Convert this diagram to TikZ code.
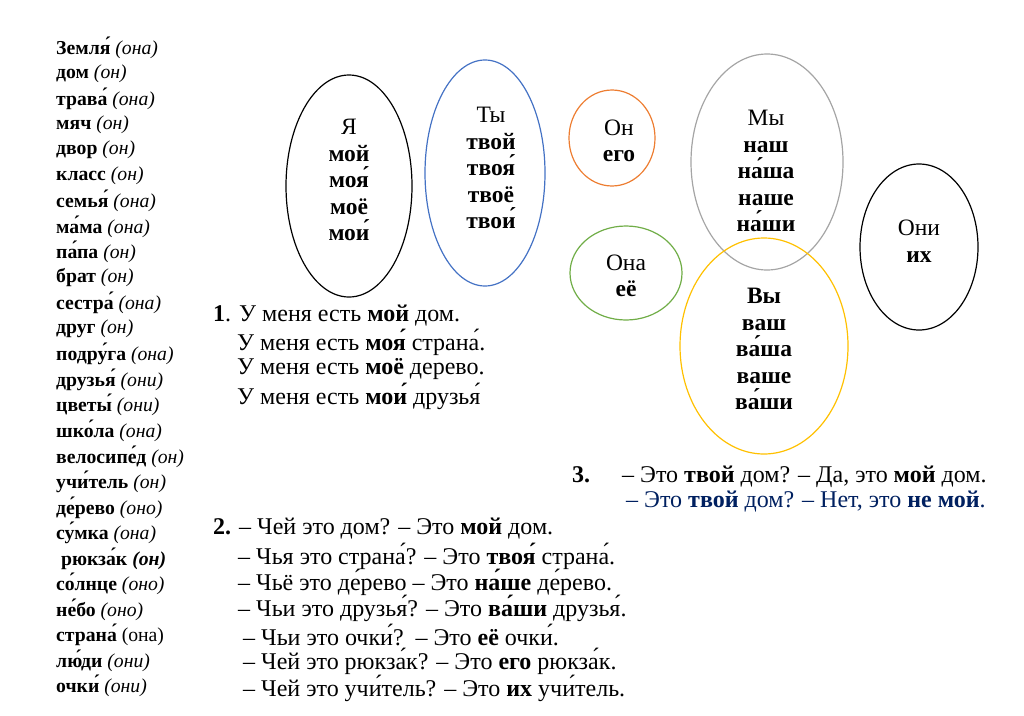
\documentclass[tikz,border=0pt]{standalone}
\usepackage{fontspec}
\setmainfont{Liberation Serif}
\def\s{\char"0301\relax}
\definecolor{cblue}{RGB}{68,114,196}
\definecolor{corange}{RGB}{237,125,49}
\definecolor{cgray}{RGB}{165,165,165}
\definecolor{cgreen}{RGB}{112,173,71}
\definecolor{cyellow}{RGB}{255,192,0}
\definecolor{cnavy}{RGB}{0,32,96}
\begin{document}
\begin{tikzpicture}[x=1pt,y=-1pt,
 lst/.style={anchor=west,inner sep=0pt,font=\fontsize{19.7}{22}\selectfont},
 txt/.style={anchor=west,inner sep=0pt,font=\fontsize{24}{26}\selectfont},
 ell/.style={draw,line width=1.2pt},
 et/.style={font=\fontsize{23.5}{26.5}\selectfont,align=center,inner sep=0pt}]
\useasboundingbox (0,0) rectangle (1024,715);
\foreach \t [count=\i from 0] in {
 {\textbf{Земля\s} \textit{(она)}},{\textbf{дом} \textit{(он)}},{\textbf{трава\s} \textit{(она)}},
 {\textbf{мяч} \textit{(он)}},{\textbf{двор} \textit{(он)}},{\textbf{класс} \textit{(он)}},
 {\textbf{семья\s} \textit{(она)}},{\textbf{ма\s ма} \textit{(она)}},{\textbf{па\s па} \textit{(он)}},
 {\textbf{брат} \textit{(он)}},{\textbf{сестра\s} \textit{(она)}},{\textbf{друг} \textit{(он)}},
 {\textbf{подру\s га} \textit{(она)}},{\textbf{друзья\s} \textit{(они)}},{\textbf{цветы\s} \textit{(они)}},
 {\textbf{шко\s ла} \textit{(она)}},{\textbf{велосипе\s д} \textit{(он)}},{\textbf{учи\s тель} \textit{(он)}},
 {\textbf{де\s рево} \textit{(оно)}},{\textbf{су\s мка} \textit{(она)}},{\ \textbf{рюкза\s к} \textbf{\textit{(он)}}},
 {\textbf{со\s лнце} \textit{(оно)}},{\textbf{не\s бо} \textit{(оно)}},{\textbf{страна\s} (она)},
 {\textbf{лю\s ди} \textit{(они)}},{\textbf{очки\s} \textit{(они)}}}
 \node[lst] (l\i) at (56,{48+25.52*\i}) {\t};
\draw[ell] (349,186) ellipse [x radius=63,y radius=111];
\node[et] (ya) at (349,180) {Я\\\textbf{мой}\\\textbf{моя\s}\\\textbf{моё}\\\textbf{мои\s}};
\draw[ell,cblue] (485,173) ellipse [x radius=60,y radius=113];
\node[et] (ty) at (491,168) {Ты\\\textbf{твой}\\\textbf{твоя\s}\\\textbf{твоё}\\\textbf{твои\s}};
\draw[ell,corange] (612,138) ellipse [x radius=43,y radius=48];
\node[et] (on) at (619,141) {Он\\\textbf{его}};
\draw[ell,cgray] (767,162) ellipse [x radius=76,y radius=108];
\node[et] (my) at (766,171) {Мы\\\textbf{наш}\\\textbf{на\s ша}\\\textbf{наше}\\\textbf{на\s ши}};
\draw[ell,cgreen] (626,273) ellipse [x radius=56,y radius=47];
\node[et] (ona) at (626,276) {Она\\\textbf{её}};
\draw[ell,cyellow] (764,346) ellipse [x radius=84,y radius=108];
\node[et] (vy) at (764,349) {\textbf{Вы}\\\textbf{ваш}\\\textbf{ва\s ша}\\\textbf{ваше}\\\textbf{ва\s ши}};
\draw[ell] (919,247) ellipse [x radius=59,y radius=83];
\node[et] (oni) at (919,241) {Они\\\textbf{их}};
\node[txt] (a1) at (213,316) {\textbf{1}. У меня есть \textbf{мой} дом.};
\node[txt] (a2) at (237,342) {У меня есть \textbf{моя\s} страна\s.};
\node[txt] (a3) at (237,369) {У меня есть \textbf{моё} дерево.};
\node[txt] (a4) at (237,396) {У меня есть \textbf{мои\s} друзья\s};
\node[txt] (c1) at (572,477) {\textbf{3.}\hspace{32pt}– Это \textbf{твой} дом? – Да, это \textbf{мой} дом.};
\node[txt,text=cnavy] (c2) at (626,502) {– Это \textbf{твой} дом? – Нет, это \textbf{не мой}.};
\node[txt] (b1) at (213,529) {\textbf{2.} – Чей это дом? – Это \textbf{мой} дом.};
\node[txt] (b2) at (238,556) {– Чья это страна\s? – Это \textbf{твоя\s} страна\s.};
\node[txt] (b3) at (238,582) {– Чьё это де\s рево – Это \textbf{на\s ше} де\s рево.};
\node[txt] (b4) at (238,608) {– Чьи это друзья\s? – Это \textbf{ва\s ши} друзья\s.};
\node[txt] (b5) at (243,635) {– Чьи это очки\s?\ \ – Это \textbf{её} очки\s.};
\node[txt] (b6) at (243,661) {– Чей это рюкза\s к? – Это \textbf{его} рюкза\s к.};
\node[txt] (b7) at (243,688) {– Чей это учи\s тель? – Это \textbf{их} учи\s тель.};
\end{tikzpicture}
\end{document}
